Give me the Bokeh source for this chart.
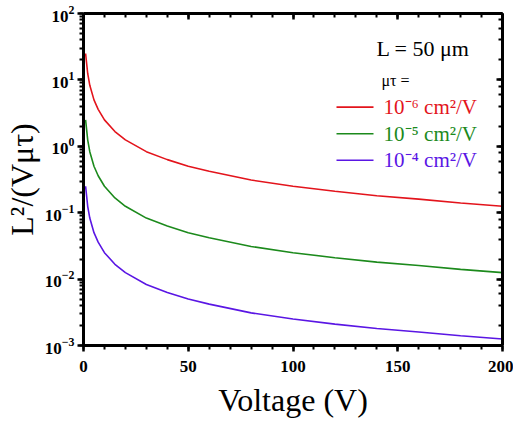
from bokeh.plotting import figure
from bokeh.models import Range1d, LinearAxis, LogAxis, Label, FixedTicker
from bokeh.embed import file_html
from bokeh.resources import INLINE

# values
voltage = [1, 2, 3, 5, 7, 10, 15, 20, 30, 40, 50, 60, 80, 100, 120, 140, 160, 180, 200]
y_mt6 = [25, 12.5, 8.3, 5.0, 3.6, 2.5, 1.67, 1.25, 0.83, 0.63, 0.50, 0.42, 0.31, 0.25, 0.21, 0.18, 0.16, 0.14, 0.125]
y_mt5 = [2.5, 1.25, 0.83, 0.50, 0.36, 0.25, 0.167, 0.125, 0.083, 0.063, 0.050, 0.042, 0.031, 0.025, 0.021, 0.018, 0.016, 0.014, 0.0125]
y_mt4 = [0.25, 0.125, 0.083, 0.050, 0.036, 0.025, 0.0167, 0.0125, 0.0083, 0.0063, 0.0050, 0.0042, 0.0031, 0.0025, 0.0021, 0.0018, 0.0016, 0.0014, 0.00125]
series_labels = ["10⁻⁶ cm²/V", "10⁻⁵ cm²/V", "10⁻⁴ cm²/V"]
colors = ["#e3141c", "#1c8a1c", "#5a16e4"]
x_ticks = [0, 50, 100, 150, 200]
x_minor = list(range(0, 201, 10))

FONT = "Liberation Serif"

p = figure(frame_width=419, frame_height=332, y_axis_type="log", output_backend="svg",
           toolbar_location=None, x_range=Range1d(0, 200), y_range=Range1d(1e-3, 1e2),
           min_border_left=78, min_border_right=11, min_border_top=13, min_border_bottom=70)
p.outline_line_color = None
p.grid.visible = False

for ys, c in zip([y_mt6, y_mt5, y_mt4], colors):
    p.line(voltage, ys, color=c, line_width=1.6)

p.xaxis.ticker = FixedTicker(ticks=x_ticks, minor_ticks=x_minor)


def style_axis(ax, labels=True):
    ax.axis_line_width = 3
    ax.axis_line_color = "black"
    ax.major_tick_line_color = "black"
    ax.minor_tick_line_color = "black"
    ax.major_tick_line_width = 2.5
    ax.minor_tick_line_width = 2
    ax.major_label_text_font = FONT
    ax.major_label_text_font_style = "bold"
    ax.major_label_text_font_size = "17px"
    ax.major_label_text_color = "black"
    if labels:
        ax.major_tick_out = 6
        ax.major_tick_in = 0
        ax.minor_tick_out = 4
        ax.minor_tick_in = 0
    else:
        ax.major_tick_out = 0
        ax.major_tick_in = 6
        ax.minor_tick_out = 0
        ax.minor_tick_in = 4
        ax.major_label_text_font_size = "1px"
        ax.major_label_text_alpha = 0
        ax.major_label_standoff = 0


for ax in p.xaxis + p.yaxis:
    style_axis(ax)
p.xaxis.major_label_standoff = 9
p.yaxis.major_label_standoff = 3

p.xaxis.axis_label = "Voltage (V)"
p.xaxis.axis_label_text_font = FONT
p.xaxis.axis_label_text_font_style = "normal"
p.xaxis.axis_label_text_font_size = "32px"
p.xaxis.axis_label_text_color = "black"
p.xaxis.axis_label_standoff = 7
p.yaxis.axis_label = "L²/(Vμτ)"
p.yaxis.axis_label_text_font = FONT
p.yaxis.axis_label_text_font_style = "normal"
p.yaxis.axis_label_text_font_size = "32px"
p.yaxis.axis_label_text_color = "black"
p.yaxis.axis_label_standoff = 2

top = LinearAxis(ticker=FixedTicker(ticks=x_ticks, minor_ticks=x_minor))
style_axis(top, labels=False)
p.add_layout(top, "above")
right = LogAxis()
style_axis(right, labels=False)
p.add_layout(right, "right")


# legend placed from reference pixel positions
def fx(px):
    return (px - 84) / 419 * 200


def fy(py):
    return 10 ** (-3 + (349 - py) / 67.4)


p.add_layout(Label(x=fx(377), y=fy(48), text="L = 50 μm", text_font=FONT,
                   text_font_size="22px", text_baseline="middle", text_color="black"))
p.add_layout(Label(x=fx(382), y=fy(80), text="μτ =", text_font=FONT,
                   text_font_size="16px", text_baseline="middle", text_color="black"))
for lab, c, py in zip(series_labels, colors, [107, 134, 161]):
    p.line([fx(337), fx(374)], [fy(py), fy(py)], color=c, line_width=1.6)
    p.add_layout(Label(x=fx(384), y=fy(py), text=lab, text_font=FONT,
                       text_font_size="21px", text_baseline="middle", text_color=c))

open("out.html", "w").write(file_html(p, INLINE))
